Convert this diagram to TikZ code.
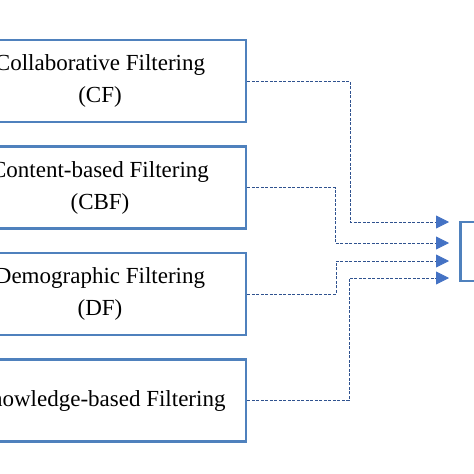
\documentclass[tikz,border=0pt]{standalone}
\usepackage{fontspec}
\setmainfont{Liberation Serif}
\usetikzlibrary{arrows.meta,positioning,calc}
\definecolor{boxblue}{RGB}{79,129,189}
\definecolor{linkblue}{RGB}{47,82,143}
\definecolor{tipblue}{RGB}{68,114,196}

\begin{document}
\begin{tikzpicture}[
 x=1pt,y=-1pt,
 node distance=22pt,
 every node/.style={font=\fontsize{23}{32}\selectfont,align=center},
 method/.style={draw=boxblue,line width=2.5pt,minimum width=292pt,minimum height=82pt,inner sep=0pt},
 target/.style={draw=boxblue,line width=2.5pt,minimum width=60pt,minimum height=59pt,inner sep=0pt},
 link/.style={draw=linkblue,line width=0.8pt,dash pattern=on 3pt off 1.5pt},
 arr/.style={link,-{Triangle[length=13pt,width=13pt,color=tipblue,fill=tipblue]}}
]
 \useasboundingbox (0,0) rectangle (474,474);
 \clip (0,0) rectangle (474,474);
 \node[method] (cf) at (100,81) {Collaborative Filtering\\(CF)};
 \node[method,below=of cf] (cbf) {Content-based Filtering\\(CBF)};
 \node[method,below=of cbf] (df) {Demographic Filtering\\(DF)};
 \node[method,below=of df] (kbf) {Knowledge-based Filtering};
 \node[target,anchor=west] (hybrid) at (459,251.5) {};
 % inlets on the left side of the target box
 \coordinate (in1) at ($(hybrid.west)+(-10,-29.5)$);
 \coordinate (in2) at ($(hybrid.west)+(-10,-8.5)$);
 \coordinate (in3) at ($(hybrid.west)+(-10,9.5)$);
 \coordinate (in4) at ($(hybrid.west)+(-10,26.5)$);
 \draw[arr] (cf.east) -| ([xshift=-99pt]in1) -- (in1);
 \draw[arr] (cbf.east) -| ([xshift=-114pt]in2) -- (in2);
 \draw[arr] (df.east) -| ([xshift=-113pt]in3) -- (in3);
 \draw[arr] (kbf.east) -| ([xshift=-100pt]in4) -- (in4);
\end{tikzpicture}
\end{document}
